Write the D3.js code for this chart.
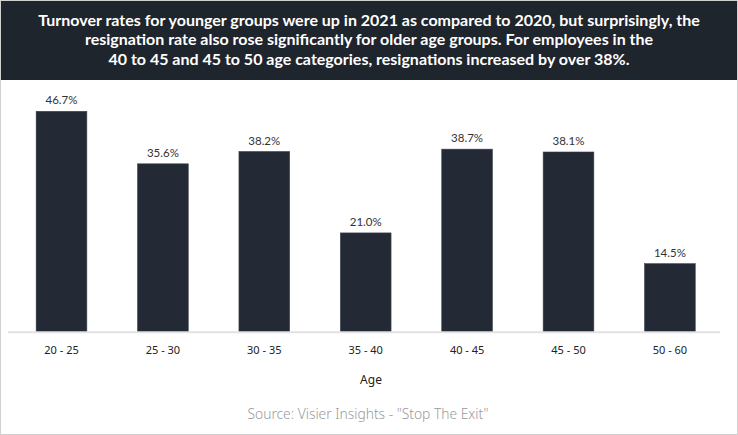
<!DOCTYPE html>
<html>
<head>
<meta charset="utf-8">
<script src="https://cdn.jsdelivr.net/npm/d3@7.9.0/dist/d3.min.js"></script>
<style>
  html, body { margin: 0; padding: 0; background: #fff; }
  svg { display: block; }
</style>
</head>
<body>
<div id="chart"></div>
<script>
const ages = ['20 - 25', '25 - 30', '30 - 35', '35 - 40', '40 - 45', '45 - 50', '50 - 60'];
const rates = [46.7, 35.6, 38.2, 21.0, 38.7, 38.1, 14.5];
const titleLines = [
  'Turnover rates for younger groups were up in 2021 as compared to 2020, but surprisingly, the',
  'resignation rate also rose significantly for older age groups. For employees in the',
  '40 to 45 and 45 to 50 age categories, resignations increased by over 38%.'
];
const xTitle = 'Age';
const source = 'Source: Visier Insights - "Stop The Exit"';

const width = 738;
const height = 435;
const baseline = 332.3;

const svg = d3.select('#chart')
  .append('svg')
  .attr('width', width)
  .attr('height', height);

// header box
svg.append('rect')
  .attr('x', 0).attr('y', 0)
  .attr('width', width).attr('height', 80)
  .attr('fill', '#1f252d');

svg.append('g')
  .selectAll('text')
  .data(titleLines)
  .join('text')
  .attr('x', width / 2)
  .attr('y', (d, i) => 25.5 + i * 19.5)
  .attr('text-anchor', 'middle')
  .attr('fill', '#fff')
  .style('font-family', 'Lato, sans-serif')
  .style('font-weight', 'bold')
  .style('font-size', '16px')
  .text(d => d);

const x = d3.scaleBand()
  .domain(ages)
  .range([10.8, 720.6])
  .paddingInner(0.5)
  .paddingOuter(0.25);

const y = d3.scaleLinear()
  .domain([0, 46.7])
  .range([baseline, 111.3]);

// bars
svg.append('g')
  .selectAll('rect')
  .data(rates)
  .join('rect')
  .attr('x', (d, i) => x(ages[i]))
  .attr('y', d => y(d))
  .attr('width', x.bandwidth())
  .attr('height', d => y(0) - y(d))
  .attr('fill', '#232a35')
  .attr('stroke', '#3a414b')
  .attr('stroke-width', 0.6);

// value labels
svg.append('g')
  .selectAll('text')
  .data(rates)
  .join('text')
  .attr('x', (d, i) => x(ages[i]) + x.bandwidth() / 2)
  .attr('y', d => y(d) - 7)
  .attr('text-anchor', 'middle')
  .attr('fill', '#333')
  .style('font-family', 'Lato, sans-serif')
  .style('font-size', '11.5px')
  .text(d => d.toFixed(1) + '%');

// x axis
const xAxis = svg.append('g')
  .attr('transform', `translate(0, ${baseline})`)
  .call(d3.axisBottom(x).tickSize(0).tickPadding(14));

xAxis.select('.domain').remove();
xAxis.append('line')
  .attr('x1', 8).attr('x2', 720)
  .attr('stroke', '#e2e2e2')
  .attr('stroke-width', 2);

xAxis.selectAll('.tick text')
  .attr('fill', '#222')
  .style('font-family', '"Noto Sans", sans-serif')
  .style('font-size', '11px');

svg.append('text')
  .attr('x', width / 2 + 2)
  .attr('y', 384)
  .attr('text-anchor', 'middle')
  .attr('fill', '#222')
  .style('font-family', '"Noto Sans", sans-serif')
  .style('font-size', '12px')
  .text(xTitle);

svg.append('text')
  .attr('x', width / 2 - 1)
  .attr('y', 419)
  .attr('text-anchor', 'middle')
  .attr('fill', '#9a9a9a')
  .style('font-family', '"Noto Sans", sans-serif')
  .style('font-weight', 300)
  .style('font-size', '13.8px')
  .text(source);

// thin frame
svg.append('rect')
  .attr('x', 0.5).attr('y', 0.5)
  .attr('width', width - 1).attr('height', height - 1)
  .attr('fill', 'none')
  .attr('stroke', '#d0d0d0');
</script>
</body>
</html>
